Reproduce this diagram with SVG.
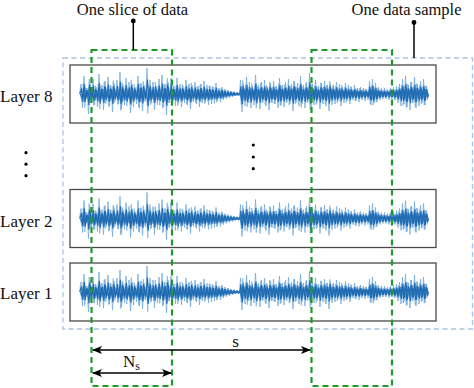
<svg xmlns="http://www.w3.org/2000/svg" xmlns:xlink="http://www.w3.org/1999/xlink" width="474" height="388" viewBox="0 0 474 388">
<style>
text{font-family:"Liberation Serif",serif;fill:#111}
.lbl{font-size:17px}
.top{font-size:16.5px;text-anchor:middle}
.layerbox{fill:#fff;stroke:#4a4a4a;stroke-width:1.3}
.outer{fill:none;stroke:#a9c3e6;stroke-width:1.3;stroke-dasharray:5 3.5}
.green{fill:none;stroke:#1f9a2a;stroke-width:2.2;stroke-dasharray:6 4}
.lead{stroke:#000;stroke-width:1.5;fill:none}
.wl{fill:none;stroke:#72aadc;stroke-width:0.8;vector-effect:non-scaling-stroke;stroke-linejoin:round}
.wd{fill:none;stroke:#216cb2;stroke-width:1.2;vector-effect:non-scaling-stroke;stroke-linejoin:round}
.arr{stroke:#000;stroke-width:1.3;fill:none}
</style>
<defs>
<path id="w" d="M0 0 L1.5 -10 3 14 4.5 -18 6 8 7.5 -6 9 20 10.5 -12 12 9 13.5 -15 15 11 16.5 -7 18 13 19.5 -20 21 10 22.5 -9 24 16 25.5 -13 27 7 28.5 -17 30 12 31.5 -8 33 18 34.5 -11 36 6 37.5 -14 39 10 40.5 -22 42 15 43.5 -9 45 11 46.5 -16 48 8 49.5 -12 51 19 52.5 -10 54 13 55.5 -7 57 10 58.5 -18 60 14 61.5 -11 63 17 64.5 -9 66 8 67.5 -26 69 12 70.5 -14 72 9 73.5 -12 75 16 76.5 -8 78 11 79.5 -15 81 7 82.5 -19 84 13 85.5 -10 87 21 88.5 -12 90 9 91.5 -16 93 11 94.5 -8 96 12 97.5 -16 99 9 100.5 -10 102 13 103.5 -8 105 9 106.5 -14 108 11 109.5 -10 111 15 112.5 -9 114 8 115.5 -12 117 10 118.5 -8 120 13 121.5 -10 123 9 124.5 -13 126 8 127.5 -9 129 11 130.5 -8 132 10 133.5 -7 135 9 136.5 -11 138 7 139.5 -6 141 8 142.5 -7 144 6 145.5 -5 147 5 148.5 -4 150 4 151.5 -3 153 3 154.5 -2.5 156 2 157.5 -2 159 2 160 0 161 -14 162.5 18 164 -10 165.5 12 167 -17 168.5 9 170 -12 171.5 14 173 -8 174.5 11 176 -19 177.5 10 179 -9 180.5 15 182 -12 183.5 8 185 -14 186.5 12 188 -7 189.5 16 191 -11 192.5 9 194 -13 195.5 10 197 -8 198.5 14 200 -16 201.5 11 203 -9 204.5 13 206 -12 207.5 8 209 -15 210.5 10 212 -10 213.5 17 215 -13 216.5 9 218 -11 219.5 12 221 -18 222.5 10 224 -9 225.5 14 227 -12 228.5 8 230 -21 231.5 13 233 -10 234.5 11 236 -14 237.5 9 239 -8 240.5 15 242 -11 243.5 10 245 -13 246.5 12 248 -9 249.5 17 251 -10 252.5 11 254 -9 255.5 10 257 -12 258.5 7 260 -10 261.5 12 263 -7 264.5 9 266 -11 267.5 7 269 -9 270.5 10 272 -7 273.5 6 275 -9 276.5 7 278 -6 279.5 8 281 -7 282.5 6 284 -6 285.5 7 287 -5 288.5 6 290 -13 291.5 11 293 -15 294.5 9 296 -11 297.5 8 299 -7 300.5 6 302 -6 303.5 5 305 -6 306.5 5 308 -5 309.5 6 311 -6 312.5 5 314 -7 315.5 6 317 -8 318.5 9 320 -10 321.5 12 323 -15 324.5 10 326 -18 327.5 13 329 -9 330.5 16 332 -12 333.5 9 335 -17 336.5 14 338 -10 339.5 12 341 -13 342.5 9 344 -15 345.5 11 347 -8 348 0"/>
<g id="wave">
<use xlink:href="#w" class="wl"/>
<use xlink:href="#w" class="wl" transform="translate(0.75 0) scale(1 -0.75)"/>
<use xlink:href="#w" class="wd" transform="translate(0.4 0) scale(1 0.55)"/>
<use xlink:href="#w" class="wd" transform="translate(1.1 0) scale(1 -0.45)"/>
</g>
<marker id="ah" viewBox="0 0 10 8" refX="9" refY="4" markerWidth="10" markerHeight="8" markerUnits="userSpaceOnUse" orient="auto-start-reverse">
<path d="M0 0 L10 4 L0 8 L2.5 4 Z" fill="#000"/>
</marker>
</defs>

<g id="sample-box">
<rect class="outer" x="63" y="58" width="409.5" height="271"/>
</g>

<g id="layer8">
<rect class="layerbox" x="70" y="65" width="366" height="58"/>
<use xlink:href="#wave" transform="translate(79.5 94)"/>
<text class="lbl" x="0" y="102" font-family="Liberation Serif, serif">Layer 8</text>
</g>
<g id="layer2">
<rect class="layerbox" x="70" y="189.5" width="366" height="58"/>
<use xlink:href="#wave" transform="translate(79.5 218.5)"/>
<text class="lbl" x="0" y="226.5" font-family="Liberation Serif, serif">Layer 2</text>
</g>
<g id="layer1">
<rect class="layerbox" x="70" y="263" width="366" height="58"/>
<use xlink:href="#wave" transform="translate(79.5 292)"/>
<text class="lbl" x="0" y="298.5" font-family="Liberation Serif, serif">Layer 1</text>
</g>

<g id="ellipsis-left">
<circle cx="26" cy="152.7" r="1.6" fill="#000"/>
<circle cx="26" cy="164.2" r="1.6" fill="#000"/>
<circle cx="26" cy="175.7" r="1.6" fill="#000"/>
</g>
<g id="ellipsis-mid">
<circle cx="253.3" cy="145" r="1.6" fill="#000"/>
<circle cx="253.3" cy="157" r="1.6" fill="#000"/>
<circle cx="253.3" cy="168.7" r="1.6" fill="#000"/>
</g>

<g id="slice-box">
<rect class="green" x="91.5" y="50" width="80.5" height="336"/>
</g>
<g id="slice-box-2">
<rect class="green" x="311.5" y="50" width="80.5" height="336"/>
</g>

<g id="label-slice">
<text class="top" x="132.5" y="14.5" font-family="Liberation Serif, serif">One slice of data</text>
</g>
<g id="label-sample">
<text class="top" x="406.5" y="14.5" font-family="Liberation Serif, serif">One data sample</text>
</g>

<g id="connectors">
<circle cx="133.3" cy="21" r="2.4" fill="#000"/>
<line class="lead" x1="133.3" y1="21" x2="133.3" y2="50"/>
<circle cx="414" cy="22.5" r="2.4" fill="#000"/>
<line class="lead" x1="414" y1="22.5" x2="414" y2="58"/>
<line class="arr" x1="93" y1="350" x2="310" y2="350" marker-start="url(#ah)" marker-end="url(#ah)"/>
<line class="arr" x1="93" y1="373" x2="171" y2="373" marker-start="url(#ah)" marker-end="url(#ah)"/>
</g>
<g id="dim-labels">
<text class="lbl" x="235.5" y="347" text-anchor="middle" font-family="Liberation Serif, serif">s</text>
<text class="lbl" x="123" y="366.5" font-family="Liberation Serif, serif">N<tspan font-size="12" dy="3.5">s</tspan></text>
</g>
</svg>
